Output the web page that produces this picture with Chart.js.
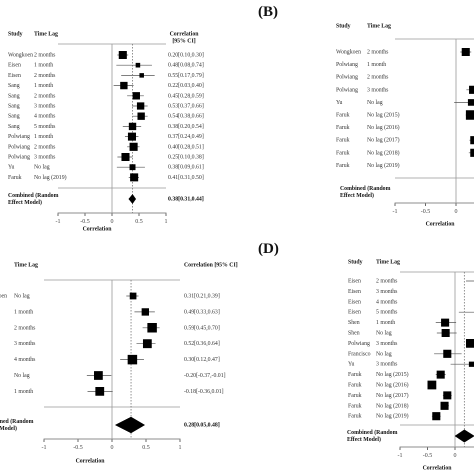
<!DOCTYPE html>
<html><head><meta charset="utf-8">
<script src="https://cdn.jsdelivr.net/npm/chart.js@4"></script>
<style>
html,body{margin:0;padding:0;background:#fff}
#wrap{position:relative;width:474px;height:474px;overflow:hidden}
#wrap canvas{position:absolute;left:0;top:0}
</style></head><body>
<div id="wrap">
<canvas id="cA" width="700" height="474"></canvas>
<canvas id="cB" width="700" height="474"></canvas>
<canvas id="cC" width="700" height="474"></canvas>
<canvas id="cD" width="700" height="474"></canvas>
</div>
<script>
const tickLabels = ['-1','-0.5','0','0.5','1'];

// Panel A
const studiesA = ['Wongkoen','Eisen','Eisen','Sang','Sang','Sang','Sang','Sang','Polwiang','Polwiang','Polwiang','Yu','Faruk'];
const lagsA = ['2 months','1 month','2 months','1 month','2 months','3 months','4 months','5 months','1 month','2 months','3 months','No lag','No lag (2019)'];
const estA = [0.20,0.48,0.55,0.22,0.45,0.53,0.54,0.38,0.37,0.40,0.25,0.38,0.41];
const loA  = [0.10,0.08,0.17,0.03,0.28,0.37,0.38,0.20,0.24,0.28,0.10,0.09,0.31];
const hiA  = [0.30,0.74,0.79,0.40,0.59,0.66,0.66,0.54,0.49,0.51,0.38,0.61,0.50];
const sizeA = [5,2.5,2.5,4.5,4.5,4.5,4.5,4.5,5,5,5,3.5,5];
const combA = [0.38,0.31,0.44];

// Panel B
const studiesB = ['Wongkoen','Polwiang','Polwiang','Polwiang','Yu','Faruk','Faruk','Faruk','Faruk','Faruk'];
const lagsB = ['2 months','1 month','2 months','3 months','No lag','No lag (2015)','No lag (2016)','No lag (2017)','No lag (2018)','No lag (2019)'];
const estB = [0.16,0.55,0.60,0.28,0.25,0.24,0.65,0.30,0.30,0.70];
const loB  = [0.07,0.42,0.45,0.17,-0.03,0.16,0.58,0.22,0.21,0.62];
const hiB  = [0.25,0.66,0.72,0.38,0.50,0.32,0.72,0.38,0.39,0.77];
const sizeB = [5,4,4,5,4,6,5,5,5,5];
const combB = [0.35,0.30,0.40];

// Panel C
const studiesC = ['Wongkoen','','','','','',''];
const lagsC = ['No lag','1 month','2 months','3 months','4 months','No lag','1 month'];
const estC = [0.31,0.49,0.59,0.52,0.30,-0.20,-0.18];
const loC  = [0.21,0.33,0.45,0.36,0.12,-0.37,-0.36];
const hiC  = [0.39,0.63,0.70,0.64,0.47,-0.01,0.01];
const sizeC = [4,4.5,6,5.5,6,5.5,5.5];
const combC = [0.28,0.05,0.48];

// Panel D
const studiesD = ['Eisen','Eisen','Eisen','Eisen','Shen','Shen','Polwiang','Francisco','Yu','Faruk','Faruk','Faruk','Faruk','Faruk'];
const lagsD = ['2 months','3 months','4 months','5 months','1 month','No lag','3 months','No lag','3 months','No lag (2015)','No lag (2016)','No lag (2017)','No lag (2018)','No lag (2019)'];
const estD = [0.45,0.50,0.55,0.40,-0.18,-0.17,0.28,-0.14,0.30,-0.26,-0.42,-0.14,-0.19,-0.34];
const loD  = [0.20,0.35,0.40,0.07,-0.35,-0.33,0.20,-0.38,-0.08,-0.35,-0.50,-0.22,-0.26,-0.42];
const hiD  = [0.65,0.62,0.68,0.70,0.02,0.03,0.36,0.12,0.60,-0.17,-0.35,-0.06,-0.11,-0.26];
const sizeD = [3,3,3,3,5,5,5.5,5,3,5,5.5,5,5,5];
const combD = [0.17,0.00,0.35];

const ci = (e,l,h) => `${e.toFixed(2)}[${l.toFixed(2)},${h.toFixed(2)}]`;

function makePanel(id, L){
  const n = L.est.length;
  const bars = [];
  for(let i=0;i<n;i++){ bars.push({x:L.lo[i],y:i},{x:L.hi[i],y:i},{x:NaN,y:NaN}); }
  const pts = L.est.map((e,i)=>({x:e,y:i}));
  const c = L.combIdx, h = L.dh;
  const dia = [{x:L.comb[1],y:c},{x:L.comb[0],y:c-h},{x:L.comb[2],y:c},{x:L.comb[0],y:c+h},{x:L.comb[1],y:c}];
  const F = 'Liberation Serif';
  const FS = 5.8;
  const deco = {
    id:'deco'+id,
    beforeDatasetsDraw(ch){
      const ctx=ch.ctx, xs=ch.scales.x, ys=ch.scales.y;
      ctx.save();
      ctx.strokeStyle='#999'; ctx.lineWidth=0.8;
      const top=ys.getPixelForValue(ys.min), bot=ys.getPixelForValue(ys.max);
      const xl=xs.getPixelForValue(-1), xr=xs.getPixelForValue(1);
      ctx.beginPath(); ctx.moveTo(xl,top); ctx.lineTo(xr,top);
      const sy=ys.getPixelForValue(L.sepIdx); ctx.moveTo(xl,sy); ctx.lineTo(xr,sy);
      const x0=xs.getPixelForValue(0); ctx.moveTo(x0,top); ctx.lineTo(x0,bot); ctx.stroke();
      ctx.setLineDash([1.5,1.5]); ctx.strokeStyle='#777';
      const xc=xs.getPixelForValue(L.comb[0]);
      ctx.beginPath(); ctx.moveTo(xc,top); ctx.lineTo(xc,bot); ctx.stroke();
      ctx.restore();
    },
    afterDraw(ch){
      const ctx=ch.ctx, ys=ch.scales.y;
      ctx.save(); ctx.fillStyle='#333'; ctx.textBaseline='middle';
      ctx.font=`${FS}px "${F}"`;
      for(let i=0;i<n;i++){
        const y=ys.getPixelForValue(i);
        ctx.textAlign=L.studyAlign||'left';
        if(L.studies[i]) ctx.fillText(L.studies[i],L.studyX,y);
        ctx.textAlign='left';
        ctx.fillText(L.lags[i],L.lagX,y);
        if(L.ciX!=null) ctx.fillText(ci(L.est[i],L.lo[i],L.hi[i]),L.ciX,y);
      }
      ctx.fillStyle='#111';
      ctx.font=`bold ${FS}px "${F}"`;
      const cy=ys.getPixelForValue(c);
      ctx.fillText('Combined (Random',L.combX,cy-3.3);
      ctx.fillText('Effect Model)',L.combX,cy+3.3);
      if(L.ciX!=null) ctx.fillText(ci(L.comb[0],L.comb[1],L.comb[2]),L.ciX,cy);
      if(L.studyHdr) ctx.fillText('Study',L.studyHdr,L.hdrY);
      ctx.fillText('Time Lag',L.lagX,L.hdrY);
      if(L.ciHdr){ L.ciHdr(ctx); }
      ctx.textAlign='center';
      ctx.fillText('Correlation',L.xlabX,L.xlabY);
      if(L.title){ ctx.textAlign='left'; ctx.font=`bold 15px "${F}"`; ctx.fillText(L.title,L.titleX,L.titleY); }
      ctx.restore();
    }
  };
  const xAxisH = 14;
  new Chart(document.getElementById(id),{
    type:'scatter',
    data:{datasets:[
      {type:'line',data:dia,fill:'shape',backgroundColor:'#000',borderColor:'#000',borderWidth:0.5,pointRadius:0,order:0},
      {data:pts,pointStyle:'rect',pointRadius:L.size,backgroundColor:'#000',borderColor:'#000',order:1},
      {type:'line',data:bars,borderColor:'#555',borderWidth:0.7,pointRadius:0,spanGaps:false,order:2}
    ]},
    plugins:[deco],
    options:{
      responsive:false,animation:false,devicePixelRatio:2,
      layout:{padding:{left:L.xm1,right:700-L.xp1,top:L.T,bottom:474-L.B-xAxisH}},
      plugins:{legend:{display:false},tooltip:{enabled:false}},
      scales:{
        x:{min:-1,max:1,afterFit:s=>{s.height=xAxisH;},
           ticks:{stepSize:0.5,padding:2,color:'#444',font:{family:F,size:6},callback:(v,i)=>tickLabels[i]},
           grid:{drawOnChartArea:false,tickLength:3,color:'#666'},border:{color:'#666',width:0.8}},
        y:{display:false,reverse:true,min:L.yMin,max:L.yMax}
      }
    }
  });
}

function rows(T,R0,s,B){ return {yMin:(T-R0)/s, yMax:(B-R0)/s}; }

makePanel('cA',Object.assign({studies:studiesA,lags:lagsA,est:estA,lo:loA,hi:hiA,size:sizeA,comb:combA,
  xm1:58,xp1:166,T:44,B:213,combIdx:(199-55)/10.2,sepIdx:(188-55)/10.2,dh:0.45,
  studyX:8,lagX:34,ciX:168,combX:8,studyHdr:8,hdrY:34,xlabX:97,xlabY:229,
  ciHdr:ctx=>{ctx.textAlign='center';ctx.fillText('Correlation',184,34);ctx.fillText('[95% CI]',184,41);ctx.textAlign='left';}
},rows(44,55,10.2,213)));

makePanel('cB',Object.assign({studies:studiesB,lags:lagsB,est:estB,lo:loB,hi:hiB,size:sizeB,comb:combB,
  xm1:395,xp1:517,T:39,B:203,combIdx:(192-52)/12.6,sepIdx:(178-52)/12.6,dh:0.1,
  studyX:336,lagX:367,ciX:null,combX:340,studyHdr:336,hdrY:26,xlabX:440,xlabY:224,
  title:'(B)',titleX:258,titleY:12
},rows(39,52,12.6,203)));

makePanel('cC',Object.assign({studies:studiesC,lags:lagsC,est:estC,lo:loC,hi:hiC,size:sizeC,comb:combC,
  xm1:44,xp1:180,T:280,B:439,combIdx:(425-296)/15.9,sepIdx:(407-296)/15.9,dh:0.5,
  studyX:7,studyAlign:'right',lagX:14,ciX:184,combX:-17,studyHdr:null,hdrY:265,xlabX:90,xlabY:461,
  ciHdr:ctx=>{ctx.textAlign='left';ctx.fillText('Correlation [95% CI]',184,265);}
},rows(280,296,15.9,439)));

makePanel('cD',Object.assign({studies:studiesD,lags:lagsD,est:estD,lo:loD,hi:hiD,size:sizeD,comb:combD,
  xm1:400,xp1:510,T:272,B:447,combIdx:(436-281)/10.4,sepIdx:(425-281)/10.4,dh:0.6,
  studyX:348,lagX:376,ciX:null,combX:347,studyHdr:348,hdrY:262,xlabX:437,xlabY:468,
  title:'(D)',titleX:258,titleY:249
},rows(272,281,10.4,447)));
</script>
</body></html>
